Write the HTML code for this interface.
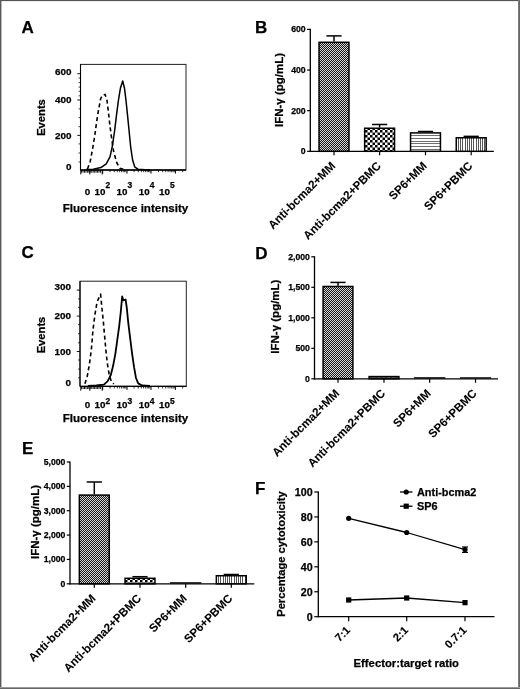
<!DOCTYPE html>
<html lang="en"><head><meta charset="utf-8"><title>Figure</title>
<style>
html,body{margin:0;padding:0;background:#fff;}
body{width:520px;height:689px;overflow:hidden;position:relative;}
svg{display:block;position:absolute;left:0;top:0;}
.bd{position:absolute;background:#666;}
text{font-family:"Liberation Sans",Arial,sans-serif;font-weight:bold;fill:#000;stroke:#000;stroke-width:0.25px;}
</style></head><body>
<svg width="520" height="689" viewBox="0 0 520 689">
<defs>
<pattern id="pDot" width="2" height="2" patternUnits="userSpaceOnUse"><rect width="2" height="2" fill="#161616"/><rect x="0" y="0" width="1" height="1" fill="#d8d8d8"/><rect x="1" y="1" width="1" height="1" fill="#d8d8d8"/></pattern>
<pattern id="pChk" width="5" height="5" patternUnits="userSpaceOnUse"><rect width="5" height="5" fill="#fff"/><rect x="0" y="0" width="2.5" height="2.5" fill="#000"/><rect x="2.5" y="2.5" width="2.5" height="2.5" fill="#000"/></pattern>
<pattern id="pHor" width="3" height="2.7" patternUnits="userSpaceOnUse"><rect width="3" height="2.7" fill="#fff"/><rect x="0" y="0.4" width="3" height="1" fill="#444"/></pattern>
<pattern id="pVer" width="2.1" height="3" patternUnits="userSpaceOnUse"><rect width="2.1" height="3" fill="#f4f4f4"/><rect x="0" y="0" width="1.05" height="3" fill="#333"/></pattern>
</defs>
<rect x="0" y="0" width="520" height="689" fill="#fff"/>
<rect x="80.5" y="64.4" width="105.50" height="105.60" fill="none" stroke="#222" stroke-width="1"/>
<line x1="77.30" y1="73.70" x2="80.50" y2="73.70" stroke="#000" stroke-width="0.9" />
<line x1="77.30" y1="100.00" x2="80.50" y2="100.00" stroke="#000" stroke-width="0.9" />
<line x1="77.30" y1="135.40" x2="80.50" y2="135.40" stroke="#000" stroke-width="0.9" />
<line x1="78.50" y1="78.00" x2="80.50" y2="78.00" stroke="#000" stroke-width="0.7" />
<line x1="78.50" y1="82.60" x2="80.50" y2="82.60" stroke="#000" stroke-width="0.7" />
<line x1="78.50" y1="87.10" x2="80.50" y2="87.10" stroke="#000" stroke-width="0.7" />
<line x1="78.50" y1="91.30" x2="80.50" y2="91.30" stroke="#000" stroke-width="0.7" />
<line x1="78.50" y1="95.80" x2="80.50" y2="95.80" stroke="#000" stroke-width="0.7" />
<line x1="78.50" y1="108.90" x2="80.50" y2="108.90" stroke="#000" stroke-width="0.7" />
<line x1="78.50" y1="117.60" x2="80.50" y2="117.60" stroke="#000" stroke-width="0.7" />
<line x1="78.50" y1="126.70" x2="80.50" y2="126.70" stroke="#000" stroke-width="0.7" />
<line x1="78.50" y1="143.90" x2="80.50" y2="143.90" stroke="#000" stroke-width="0.7" />
<line x1="78.50" y1="153.00" x2="80.50" y2="153.00" stroke="#000" stroke-width="0.7" />
<line x1="78.50" y1="162.00" x2="80.50" y2="162.00" stroke="#000" stroke-width="0.7" />
<text x="71.50" y="74.90" font-size="9.9" text-anchor="end" >600</text>
<text x="71.50" y="103.40" font-size="9.9" text-anchor="end" >400</text>
<text x="71.50" y="138.70" font-size="9.9" text-anchor="end" >200</text>
<text x="71.50" y="170.00" font-size="9.9" text-anchor="end" >0</text>
<line x1="80.50" y1="170.00" x2="186.00" y2="170.00" stroke="#000" stroke-width="1.3" />
<line x1="80.50" y1="64.40" x2="80.50" y2="170.00" stroke="#000" stroke-width="1.1" />
<line x1="102.70" y1="170.00" x2="102.70" y2="173.60" stroke="#000" stroke-width="1.0" />
<line x1="127.00" y1="170.00" x2="127.00" y2="173.60" stroke="#000" stroke-width="1.0" />
<line x1="151.00" y1="170.00" x2="151.00" y2="173.60" stroke="#000" stroke-width="1.0" />
<line x1="175.40" y1="170.00" x2="175.40" y2="173.60" stroke="#000" stroke-width="1.0" />
<line x1="81.60" y1="170.00" x2="81.60" y2="172.70" stroke="#000" stroke-width="0.9" />
<line x1="83.05" y1="170.00" x2="83.05" y2="172.70" stroke="#000" stroke-width="0.9" />
<line x1="84.50" y1="170.00" x2="84.50" y2="172.70" stroke="#000" stroke-width="0.9" />
<line x1="85.95" y1="170.00" x2="85.95" y2="172.70" stroke="#000" stroke-width="0.9" />
<line x1="87.40" y1="170.00" x2="87.40" y2="172.70" stroke="#000" stroke-width="0.9" />
<line x1="88.85" y1="170.00" x2="88.85" y2="172.70" stroke="#000" stroke-width="0.9" />
<line x1="90.30" y1="170.00" x2="90.30" y2="172.70" stroke="#000" stroke-width="0.9" />
<line x1="91.75" y1="170.00" x2="91.75" y2="172.70" stroke="#000" stroke-width="0.9" />
<line x1="93.20" y1="170.00" x2="93.20" y2="172.70" stroke="#000" stroke-width="0.9" />
<line x1="94.65" y1="170.00" x2="94.65" y2="172.70" stroke="#000" stroke-width="0.9" />
<line x1="96.10" y1="170.00" x2="96.10" y2="172.70" stroke="#000" stroke-width="0.9" />
<line x1="97.55" y1="170.00" x2="97.55" y2="172.70" stroke="#000" stroke-width="0.9" />
<line x1="99.00" y1="170.00" x2="99.00" y2="172.70" stroke="#000" stroke-width="0.9" />
<line x1="100.45" y1="170.00" x2="100.45" y2="172.70" stroke="#000" stroke-width="0.9" />
<line x1="80.80" y1="170.00" x2="80.80" y2="174.40" stroke="#000" stroke-width="1.0" />
<line x1="89.80" y1="170.00" x2="89.80" y2="174.40" stroke="#000" stroke-width="1.0" />
<line x1="102.20" y1="170.00" x2="102.20" y2="174.40" stroke="#000" stroke-width="1.0" />
<line x1="110.02" y1="170.00" x2="110.02" y2="172.20" stroke="#000" stroke-width="0.8" />
<line x1="114.29" y1="170.00" x2="114.29" y2="172.20" stroke="#000" stroke-width="0.8" />
<line x1="117.33" y1="170.00" x2="117.33" y2="172.20" stroke="#000" stroke-width="0.8" />
<line x1="119.68" y1="170.00" x2="119.68" y2="172.20" stroke="#000" stroke-width="0.8" />
<line x1="121.61" y1="170.00" x2="121.61" y2="172.20" stroke="#000" stroke-width="0.8" />
<line x1="123.24" y1="170.00" x2="123.24" y2="172.20" stroke="#000" stroke-width="0.8" />
<line x1="124.65" y1="170.00" x2="124.65" y2="172.20" stroke="#000" stroke-width="0.8" />
<line x1="125.89" y1="170.00" x2="125.89" y2="172.20" stroke="#000" stroke-width="0.8" />
<line x1="134.02" y1="170.00" x2="134.02" y2="172.20" stroke="#000" stroke-width="0.8" />
<line x1="138.29" y1="170.00" x2="138.29" y2="172.20" stroke="#000" stroke-width="0.8" />
<line x1="141.33" y1="170.00" x2="141.33" y2="172.20" stroke="#000" stroke-width="0.8" />
<line x1="143.68" y1="170.00" x2="143.68" y2="172.20" stroke="#000" stroke-width="0.8" />
<line x1="145.61" y1="170.00" x2="145.61" y2="172.20" stroke="#000" stroke-width="0.8" />
<line x1="147.24" y1="170.00" x2="147.24" y2="172.20" stroke="#000" stroke-width="0.8" />
<line x1="148.65" y1="170.00" x2="148.65" y2="172.20" stroke="#000" stroke-width="0.8" />
<line x1="149.89" y1="170.00" x2="149.89" y2="172.20" stroke="#000" stroke-width="0.8" />
<line x1="158.42" y1="170.00" x2="158.42" y2="172.20" stroke="#000" stroke-width="0.8" />
<line x1="162.69" y1="170.00" x2="162.69" y2="172.20" stroke="#000" stroke-width="0.8" />
<line x1="165.73" y1="170.00" x2="165.73" y2="172.20" stroke="#000" stroke-width="0.8" />
<line x1="168.08" y1="170.00" x2="168.08" y2="172.20" stroke="#000" stroke-width="0.8" />
<line x1="170.01" y1="170.00" x2="170.01" y2="172.20" stroke="#000" stroke-width="0.8" />
<line x1="171.64" y1="170.00" x2="171.64" y2="172.20" stroke="#000" stroke-width="0.8" />
<line x1="173.05" y1="170.00" x2="173.05" y2="172.20" stroke="#000" stroke-width="0.8" />
<line x1="174.29" y1="170.00" x2="174.29" y2="172.20" stroke="#000" stroke-width="0.8" />
<line x1="182.72" y1="170.00" x2="182.72" y2="172.20" stroke="#000" stroke-width="0.8" />
<text x="87.50" y="194.60" font-size="9.8" text-anchor="middle" >0</text>
<text x="100.00" y="194.60" font-size="9.8" text-anchor="middle" >10</text>
<text x="107.80" y="188.20" font-size="8.4" text-anchor="middle" >2</text>
<text x="122.00" y="194.60" font-size="9.8" text-anchor="middle" >10</text>
<text x="129.80" y="188.20" font-size="8.4" text-anchor="middle" >3</text>
<text x="144.30" y="194.60" font-size="9.8" text-anchor="middle" >10</text>
<text x="152.10" y="188.20" font-size="8.4" text-anchor="middle" >4</text>
<text x="164.50" y="194.60" font-size="9.8" text-anchor="middle" >10</text>
<text x="172.30" y="188.20" font-size="8.4" text-anchor="middle" >5</text>
<text x="125.50" y="212.00" font-size="11.6" text-anchor="middle" >Fluorescence intensity</text>
<text x="45.00" y="117.50" font-size="11.2" text-anchor="middle" transform="rotate(-90 45.00 117.50)" >Events</text>
<path d="M86.0,169.6 L93.3,169.3 L100.9,167.6 L106.2,163.8 L110.0,156.9 L112.3,146.3 L114.6,131.0 L116.4,115.8 L118.4,100.5 L120.4,88.3 L122.7,81.0 L124.5,88.3 L126.0,100.5 L127.6,115.8 L129.1,131.0 L130.6,146.3 L132.6,160.0 L134.7,166.8 L138.2,169.3 L145.0,169.7 L150.0,169.8" fill="none" stroke="#000" stroke-width="1.5" stroke-linejoin="round"/>
<path d="M87.5,169.1 L90.2,161.5 L92.5,149.3 L94.8,135.6 L96.6,121.9 L98.6,109.7 L100.6,99.0 L102.4,95.2 L105.1,94.4 L107.0,100.5 L108.5,112.7 L110.0,126.4 L111.9,140.2 L113.8,152.4 L116.9,163.0 L119.9,168.4 L125.3,169.6" fill="none" stroke="#000" stroke-width="1.6" stroke-linejoin="round" stroke-dasharray="4 3"/>
<rect x="80" y="281.2" width="106.30" height="105.10" fill="none" stroke="#222" stroke-width="1"/>
<line x1="76.80" y1="290.10" x2="80.00" y2="290.10" stroke="#000" stroke-width="0.9" />
<line x1="76.80" y1="316.10" x2="80.00" y2="316.10" stroke="#000" stroke-width="0.9" />
<line x1="76.80" y1="351.50" x2="80.00" y2="351.50" stroke="#000" stroke-width="0.9" />
<line x1="78.00" y1="298.90" x2="80.00" y2="298.90" stroke="#000" stroke-width="0.7" />
<line x1="78.00" y1="307.40" x2="80.00" y2="307.40" stroke="#000" stroke-width="0.7" />
<line x1="78.00" y1="324.60" x2="80.00" y2="324.60" stroke="#000" stroke-width="0.7" />
<line x1="78.00" y1="333.70" x2="80.00" y2="333.70" stroke="#000" stroke-width="0.7" />
<line x1="78.00" y1="342.80" x2="80.00" y2="342.80" stroke="#000" stroke-width="0.7" />
<line x1="78.00" y1="360.00" x2="80.00" y2="360.00" stroke="#000" stroke-width="0.7" />
<line x1="78.00" y1="369.10" x2="80.00" y2="369.10" stroke="#000" stroke-width="0.7" />
<line x1="78.00" y1="377.80" x2="80.00" y2="377.80" stroke="#000" stroke-width="0.7" />
<text x="71.00" y="289.70" font-size="9.9" text-anchor="end" >300</text>
<text x="71.00" y="319.40" font-size="9.9" text-anchor="end" >200</text>
<text x="71.00" y="354.90" font-size="9.9" text-anchor="end" >100</text>
<text x="71.00" y="385.60" font-size="9.9" text-anchor="end" >0</text>
<line x1="80.00" y1="386.30" x2="186.30" y2="386.30" stroke="#000" stroke-width="1.3" />
<line x1="80.00" y1="281.20" x2="80.00" y2="386.30" stroke="#000" stroke-width="1.1" />
<line x1="102.70" y1="386.30" x2="102.70" y2="389.90" stroke="#000" stroke-width="1.0" />
<line x1="127.00" y1="386.30" x2="127.00" y2="389.90" stroke="#000" stroke-width="1.0" />
<line x1="151.00" y1="386.30" x2="151.00" y2="389.90" stroke="#000" stroke-width="1.0" />
<line x1="175.40" y1="386.30" x2="175.40" y2="389.90" stroke="#000" stroke-width="1.0" />
<line x1="81.60" y1="386.30" x2="81.60" y2="389.00" stroke="#000" stroke-width="0.9" />
<line x1="83.05" y1="386.30" x2="83.05" y2="389.00" stroke="#000" stroke-width="0.9" />
<line x1="84.50" y1="386.30" x2="84.50" y2="389.00" stroke="#000" stroke-width="0.9" />
<line x1="85.95" y1="386.30" x2="85.95" y2="389.00" stroke="#000" stroke-width="0.9" />
<line x1="87.40" y1="386.30" x2="87.40" y2="389.00" stroke="#000" stroke-width="0.9" />
<line x1="88.85" y1="386.30" x2="88.85" y2="389.00" stroke="#000" stroke-width="0.9" />
<line x1="90.30" y1="386.30" x2="90.30" y2="389.00" stroke="#000" stroke-width="0.9" />
<line x1="91.75" y1="386.30" x2="91.75" y2="389.00" stroke="#000" stroke-width="0.9" />
<line x1="93.20" y1="386.30" x2="93.20" y2="389.00" stroke="#000" stroke-width="0.9" />
<line x1="94.65" y1="386.30" x2="94.65" y2="389.00" stroke="#000" stroke-width="0.9" />
<line x1="96.10" y1="386.30" x2="96.10" y2="389.00" stroke="#000" stroke-width="0.9" />
<line x1="97.55" y1="386.30" x2="97.55" y2="389.00" stroke="#000" stroke-width="0.9" />
<line x1="99.00" y1="386.30" x2="99.00" y2="389.00" stroke="#000" stroke-width="0.9" />
<line x1="100.45" y1="386.30" x2="100.45" y2="389.00" stroke="#000" stroke-width="0.9" />
<line x1="80.80" y1="386.30" x2="80.80" y2="390.70" stroke="#000" stroke-width="1.0" />
<line x1="89.80" y1="386.30" x2="89.80" y2="390.70" stroke="#000" stroke-width="1.0" />
<line x1="102.20" y1="386.30" x2="102.20" y2="390.70" stroke="#000" stroke-width="1.0" />
<line x1="110.02" y1="386.30" x2="110.02" y2="388.50" stroke="#000" stroke-width="0.8" />
<line x1="114.29" y1="386.30" x2="114.29" y2="388.50" stroke="#000" stroke-width="0.8" />
<line x1="117.33" y1="386.30" x2="117.33" y2="388.50" stroke="#000" stroke-width="0.8" />
<line x1="119.68" y1="386.30" x2="119.68" y2="388.50" stroke="#000" stroke-width="0.8" />
<line x1="121.61" y1="386.30" x2="121.61" y2="388.50" stroke="#000" stroke-width="0.8" />
<line x1="123.24" y1="386.30" x2="123.24" y2="388.50" stroke="#000" stroke-width="0.8" />
<line x1="124.65" y1="386.30" x2="124.65" y2="388.50" stroke="#000" stroke-width="0.8" />
<line x1="125.89" y1="386.30" x2="125.89" y2="388.50" stroke="#000" stroke-width="0.8" />
<line x1="134.02" y1="386.30" x2="134.02" y2="388.50" stroke="#000" stroke-width="0.8" />
<line x1="138.29" y1="386.30" x2="138.29" y2="388.50" stroke="#000" stroke-width="0.8" />
<line x1="141.33" y1="386.30" x2="141.33" y2="388.50" stroke="#000" stroke-width="0.8" />
<line x1="143.68" y1="386.30" x2="143.68" y2="388.50" stroke="#000" stroke-width="0.8" />
<line x1="145.61" y1="386.30" x2="145.61" y2="388.50" stroke="#000" stroke-width="0.8" />
<line x1="147.24" y1="386.30" x2="147.24" y2="388.50" stroke="#000" stroke-width="0.8" />
<line x1="148.65" y1="386.30" x2="148.65" y2="388.50" stroke="#000" stroke-width="0.8" />
<line x1="149.89" y1="386.30" x2="149.89" y2="388.50" stroke="#000" stroke-width="0.8" />
<line x1="158.42" y1="386.30" x2="158.42" y2="388.50" stroke="#000" stroke-width="0.8" />
<line x1="162.69" y1="386.30" x2="162.69" y2="388.50" stroke="#000" stroke-width="0.8" />
<line x1="165.73" y1="386.30" x2="165.73" y2="388.50" stroke="#000" stroke-width="0.8" />
<line x1="168.08" y1="386.30" x2="168.08" y2="388.50" stroke="#000" stroke-width="0.8" />
<line x1="170.01" y1="386.30" x2="170.01" y2="388.50" stroke="#000" stroke-width="0.8" />
<line x1="171.64" y1="386.30" x2="171.64" y2="388.50" stroke="#000" stroke-width="0.8" />
<line x1="173.05" y1="386.30" x2="173.05" y2="388.50" stroke="#000" stroke-width="0.8" />
<line x1="174.29" y1="386.30" x2="174.29" y2="388.50" stroke="#000" stroke-width="0.8" />
<line x1="182.72" y1="386.30" x2="182.72" y2="388.50" stroke="#000" stroke-width="0.8" />
<text x="87.50" y="407.80" font-size="9.8" text-anchor="middle" >0</text>
<text x="100.00" y="407.80" font-size="9.8" text-anchor="middle" >10</text>
<text x="107.80" y="403.50" font-size="8.4" text-anchor="middle" >2</text>
<text x="122.00" y="407.80" font-size="9.8" text-anchor="middle" >10</text>
<text x="129.80" y="403.50" font-size="8.4" text-anchor="middle" >3</text>
<text x="144.30" y="407.80" font-size="9.8" text-anchor="middle" >10</text>
<text x="152.10" y="403.50" font-size="8.4" text-anchor="middle" >4</text>
<text x="164.50" y="407.80" font-size="9.8" text-anchor="middle" >10</text>
<text x="172.30" y="403.50" font-size="8.4" text-anchor="middle" >5</text>
<text x="125.50" y="421.60" font-size="11.6" text-anchor="middle" >Fluorescence intensity</text>
<text x="45.00" y="335.00" font-size="11.2" text-anchor="middle" transform="rotate(-90 45.00 335.00)" >Events</text>
<path d="M88.0,385.8 L96.3,385.5 L103.9,384.6 L107.7,381.1 L110.8,375.0 L113.1,365.8 L115.4,353.6 L117.3,339.9 L119.2,326.2 L120.7,312.5 L122.2,296.4 L123.4,300.3 L125.6,299.5 L126.8,307.9 L128.3,323.1 L130.2,338.4 L132.1,353.6 L134.1,367.4 L136.0,378.0 L138.2,383.4 L142.0,385.5 L150.0,385.9" fill="none" stroke="#000" stroke-width="1.8" stroke-linejoin="round"/>
<path d="M84.9,383.8 L87.2,376.5 L89.4,364.3 L91.4,349.1 L92.9,330.8 L94.8,315.5 L97.1,301.8 L100.6,294.2 L101.6,304.8 L103.2,320.1 L104.7,336.9 L106.2,353.6 L107.7,365.8 L109.3,375.0 L111.2,381.1 L113.8,384.1" fill="none" stroke="#000" stroke-width="1.6" stroke-linejoin="round" stroke-dasharray="4 3"/>
<line x1="310.30" y1="28.80" x2="310.30" y2="151.90" stroke="#000" stroke-width="1.3" />
<line x1="309.70" y1="151.30" x2="493.80" y2="151.30" stroke="#000" stroke-width="1.3" />
<line x1="307.10" y1="29.40" x2="310.30" y2="29.40" stroke="#000" stroke-width="1.2" />
<text x="305.70" y="32.40" font-size="8.7" text-anchor="end" >600</text>
<line x1="307.10" y1="70.03" x2="310.30" y2="70.03" stroke="#000" stroke-width="1.2" />
<text x="305.70" y="73.03" font-size="8.7" text-anchor="end" >400</text>
<line x1="307.10" y1="110.67" x2="310.30" y2="110.67" stroke="#000" stroke-width="1.2" />
<text x="305.70" y="113.67" font-size="8.7" text-anchor="end" >200</text>
<line x1="307.10" y1="151.30" x2="310.30" y2="151.30" stroke="#000" stroke-width="1.2" />
<text x="305.70" y="154.30" font-size="8.7" text-anchor="end" >0</text>
<line x1="334.00" y1="35.90" x2="334.00" y2="41.59" stroke="#000" stroke-width="1.5" />
<line x1="326.40" y1="35.90" x2="341.60" y2="35.90" stroke="#000" stroke-width="1.5" />
<rect x="319.05" y="42.29" width="29.90" height="109.01" fill="url(#pDot)" stroke="#000" stroke-width="1.5"/>
<line x1="334.00" y1="151.30" x2="334.00" y2="155.30" stroke="#000" stroke-width="1.2" />
<text x="336.00" y="166.60" font-size="11.6" text-anchor="end" transform="rotate(-45 336.00 166.60)" style="stroke-width:0.1px">Anti-bcma2+MM</text>
<line x1="379.60" y1="124.48" x2="379.60" y2="127.53" stroke="#000" stroke-width="1.5" />
<line x1="372.00" y1="124.48" x2="387.20" y2="124.48" stroke="#000" stroke-width="1.5" />
<rect x="364.65" y="128.23" width="29.90" height="23.07" fill="url(#pChk)" stroke="#000" stroke-width="1.5"/>
<line x1="379.60" y1="151.30" x2="379.60" y2="155.30" stroke="#000" stroke-width="1.2" />
<text x="381.60" y="166.60" font-size="11.6" text-anchor="end" transform="rotate(-45 381.60 166.60)" style="stroke-width:0.1px">Anti-bcma2+PBMC</text>
<line x1="425.50" y1="131.49" x2="425.50" y2="132.20" stroke="#000" stroke-width="1.5" />
<line x1="417.90" y1="131.49" x2="433.10" y2="131.49" stroke="#000" stroke-width="1.5" />
<rect x="410.55" y="132.90" width="29.90" height="18.40" fill="#fff" stroke="none"/>
<line x1="410.55" y1="149.30" x2="440.45" y2="149.30" stroke="#707070" stroke-width="1" shape-rendering="crispEdges"/>
<line x1="410.55" y1="146.60" x2="440.45" y2="146.60" stroke="#707070" stroke-width="1" shape-rendering="crispEdges"/>
<line x1="410.55" y1="143.90" x2="440.45" y2="143.90" stroke="#707070" stroke-width="1" shape-rendering="crispEdges"/>
<line x1="410.55" y1="141.20" x2="440.45" y2="141.20" stroke="#707070" stroke-width="1" shape-rendering="crispEdges"/>
<line x1="410.55" y1="138.50" x2="440.45" y2="138.50" stroke="#707070" stroke-width="1" shape-rendering="crispEdges"/>
<line x1="410.55" y1="135.80" x2="440.45" y2="135.80" stroke="#707070" stroke-width="1" shape-rendering="crispEdges"/>
<rect x="410.55" y="132.90" width="29.90" height="18.40" fill="none" stroke="#000" stroke-width="1.5"/>
<line x1="425.50" y1="151.30" x2="425.50" y2="155.30" stroke="#000" stroke-width="1.2" />
<text x="427.50" y="166.60" font-size="11.6" text-anchor="end" transform="rotate(-45 427.50 166.60)" style="stroke-width:0.1px">SP6+MM</text>
<line x1="471.20" y1="136.37" x2="471.20" y2="137.08" stroke="#000" stroke-width="1.5" />
<line x1="463.60" y1="136.37" x2="478.80" y2="136.37" stroke="#000" stroke-width="1.5" />
<rect x="456.25" y="137.78" width="29.90" height="13.52" fill="#fff" stroke="none"/>
<line x1="458.55" y1="137.78" x2="458.55" y2="151.30" stroke="#555" stroke-width="1" shape-rendering="crispEdges"/>
<line x1="460.75" y1="137.78" x2="460.75" y2="151.30" stroke="#555" stroke-width="1" shape-rendering="crispEdges"/>
<line x1="462.95" y1="137.78" x2="462.95" y2="151.30" stroke="#555" stroke-width="1" shape-rendering="crispEdges"/>
<line x1="465.15" y1="137.78" x2="465.15" y2="151.30" stroke="#555" stroke-width="1" shape-rendering="crispEdges"/>
<line x1="467.35" y1="137.78" x2="467.35" y2="151.30" stroke="#555" stroke-width="1" shape-rendering="crispEdges"/>
<line x1="469.55" y1="137.78" x2="469.55" y2="151.30" stroke="#555" stroke-width="1" shape-rendering="crispEdges"/>
<line x1="471.75" y1="137.78" x2="471.75" y2="151.30" stroke="#555" stroke-width="1" shape-rendering="crispEdges"/>
<line x1="473.95" y1="137.78" x2="473.95" y2="151.30" stroke="#555" stroke-width="1" shape-rendering="crispEdges"/>
<line x1="476.15" y1="137.78" x2="476.15" y2="151.30" stroke="#555" stroke-width="1" shape-rendering="crispEdges"/>
<line x1="478.35" y1="137.78" x2="478.35" y2="151.30" stroke="#555" stroke-width="1" shape-rendering="crispEdges"/>
<line x1="480.55" y1="137.78" x2="480.55" y2="151.30" stroke="#555" stroke-width="1" shape-rendering="crispEdges"/>
<line x1="482.75" y1="137.78" x2="482.75" y2="151.30" stroke="#555" stroke-width="1" shape-rendering="crispEdges"/>
<line x1="484.95" y1="137.78" x2="484.95" y2="151.30" stroke="#555" stroke-width="1" shape-rendering="crispEdges"/>
<rect x="456.25" y="137.78" width="29.90" height="13.52" fill="none" stroke="#000" stroke-width="1.5"/>
<line x1="471.20" y1="151.30" x2="471.20" y2="155.30" stroke="#000" stroke-width="1.2" />
<text x="473.20" y="166.60" font-size="11.6" text-anchor="end" transform="rotate(-45 473.20 166.60)" style="stroke-width:0.1px">SP6+PBMC</text>
<text x="282.80" y="90.00" font-size="11.5" text-anchor="middle" transform="rotate(-90 282.80 90.00)" >IFN-γ (pg/mL)</text>
<line x1="314.50" y1="256.20" x2="314.50" y2="379.40" stroke="#000" stroke-width="1.3" />
<line x1="313.90" y1="378.80" x2="498.00" y2="378.80" stroke="#000" stroke-width="1.3" />
<line x1="311.30" y1="256.80" x2="314.50" y2="256.80" stroke="#000" stroke-width="1.2" />
<text x="309.90" y="259.80" font-size="8.7" text-anchor="end" >2,000</text>
<line x1="311.30" y1="287.30" x2="314.50" y2="287.30" stroke="#000" stroke-width="1.2" />
<text x="309.90" y="290.30" font-size="8.7" text-anchor="end" >1,500</text>
<line x1="311.30" y1="317.80" x2="314.50" y2="317.80" stroke="#000" stroke-width="1.2" />
<text x="309.90" y="320.80" font-size="8.7" text-anchor="end" >1,000</text>
<line x1="311.30" y1="348.30" x2="314.50" y2="348.30" stroke="#000" stroke-width="1.2" />
<text x="309.90" y="351.30" font-size="8.7" text-anchor="end" >500</text>
<line x1="311.30" y1="378.80" x2="314.50" y2="378.80" stroke="#000" stroke-width="1.2" />
<text x="309.90" y="381.80" font-size="8.7" text-anchor="end" >0</text>
<line x1="338.00" y1="282.42" x2="338.00" y2="285.78" stroke="#000" stroke-width="1.5" />
<line x1="330.40" y1="282.42" x2="345.60" y2="282.42" stroke="#000" stroke-width="1.5" />
<rect x="323.10" y="286.48" width="29.80" height="92.32" fill="url(#pDot)" stroke="#000" stroke-width="1.5"/>
<line x1="338.00" y1="378.80" x2="338.00" y2="382.80" stroke="#000" stroke-width="1.2" />
<text x="340.00" y="394.10" font-size="11.6" text-anchor="end" transform="rotate(-45 340.00 394.10)" style="stroke-width:0.1px">Anti-bcma2+MM</text>
<rect x="369.10" y="376.57" width="29.80" height="2.23" fill="url(#pChk)" stroke="#000" stroke-width="1.5"/>
<line x1="370.10" y1="377.59" x2="397.90" y2="377.59" stroke="#222" stroke-width="0.7" stroke-dasharray="2.5 2.5"/>
<line x1="384.00" y1="378.80" x2="384.00" y2="382.80" stroke="#000" stroke-width="1.2" />
<text x="386.00" y="394.10" font-size="11.6" text-anchor="end" transform="rotate(-45 386.00 394.10)" style="stroke-width:0.1px">Anti-bcma2+PBMC</text>
<line x1="414.10" y1="377.90" x2="445.30" y2="377.90" stroke="#000" stroke-width="1.4" />
<line x1="429.70" y1="378.80" x2="429.70" y2="382.80" stroke="#000" stroke-width="1.2" />
<text x="431.70" y="394.10" font-size="11.6" text-anchor="end" transform="rotate(-45 431.70 394.10)" style="stroke-width:0.1px">SP6+MM</text>
<line x1="459.90" y1="377.90" x2="491.10" y2="377.90" stroke="#000" stroke-width="1.4" />
<line x1="475.50" y1="378.80" x2="475.50" y2="382.80" stroke="#000" stroke-width="1.2" />
<text x="477.50" y="394.10" font-size="11.6" text-anchor="end" transform="rotate(-45 477.50 394.10)" style="stroke-width:0.1px">SP6+PBMC</text>
<text x="278.80" y="316.60" font-size="11.5" text-anchor="middle" transform="rotate(-90 278.80 316.60)" >IFN-γ (pg/mL)</text>
<line x1="70.00" y1="461.40" x2="70.00" y2="584.40" stroke="#000" stroke-width="1.3" />
<line x1="69.40" y1="583.80" x2="254.30" y2="583.80" stroke="#000" stroke-width="1.3" />
<line x1="66.80" y1="462.00" x2="70.00" y2="462.00" stroke="#000" stroke-width="1.2" />
<text x="65.40" y="465.00" font-size="8.7" text-anchor="end" >5,000</text>
<line x1="66.80" y1="486.36" x2="70.00" y2="486.36" stroke="#000" stroke-width="1.2" />
<text x="65.40" y="489.36" font-size="8.7" text-anchor="end" >4,000</text>
<line x1="66.80" y1="510.72" x2="70.00" y2="510.72" stroke="#000" stroke-width="1.2" />
<text x="65.40" y="513.72" font-size="8.7" text-anchor="end" >3,000</text>
<line x1="66.80" y1="535.08" x2="70.00" y2="535.08" stroke="#000" stroke-width="1.2" />
<text x="65.40" y="538.08" font-size="8.7" text-anchor="end" >2,000</text>
<line x1="66.80" y1="559.44" x2="70.00" y2="559.44" stroke="#000" stroke-width="1.2" />
<text x="65.40" y="562.44" font-size="8.7" text-anchor="end" >1,000</text>
<line x1="66.80" y1="583.80" x2="70.00" y2="583.80" stroke="#000" stroke-width="1.2" />
<text x="65.40" y="586.80" font-size="8.7" text-anchor="end" >0</text>
<line x1="94.30" y1="481.98" x2="94.30" y2="494.40" stroke="#000" stroke-width="1.5" />
<line x1="86.70" y1="481.98" x2="101.90" y2="481.98" stroke="#000" stroke-width="1.5" />
<rect x="79.35" y="495.10" width="29.90" height="88.70" fill="url(#pDot)" stroke="#000" stroke-width="1.5"/>
<line x1="94.30" y1="583.80" x2="94.30" y2="587.80" stroke="#000" stroke-width="1.2" />
<text x="96.30" y="599.10" font-size="11.6" text-anchor="end" transform="rotate(-45 96.30 599.10)" style="stroke-width:0.1px">Anti-bcma2+MM</text>
<line x1="140.00" y1="576.71" x2="140.00" y2="577.59" stroke="#000" stroke-width="1.5" />
<line x1="132.40" y1="576.71" x2="147.60" y2="576.71" stroke="#000" stroke-width="1.5" />
<rect x="125.05" y="578.29" width="29.90" height="5.51" fill="url(#pChk)" stroke="#000" stroke-width="1.5"/>
<line x1="140.00" y1="583.80" x2="140.00" y2="587.80" stroke="#000" stroke-width="1.2" />
<text x="142.00" y="599.10" font-size="11.6" text-anchor="end" transform="rotate(-45 142.00 599.10)" style="stroke-width:0.1px">Anti-bcma2+PBMC</text>
<line x1="170.05" y1="582.90" x2="201.35" y2="582.90" stroke="#000" stroke-width="1.4" />
<line x1="185.70" y1="583.80" x2="185.70" y2="587.80" stroke="#000" stroke-width="1.2" />
<text x="187.70" y="599.10" font-size="11.6" text-anchor="end" transform="rotate(-45 187.70 599.10)" style="stroke-width:0.1px">SP6+MM</text>
<line x1="231.30" y1="574.49" x2="231.30" y2="575.03" stroke="#000" stroke-width="1.5" />
<line x1="223.70" y1="574.49" x2="238.90" y2="574.49" stroke="#000" stroke-width="1.5" />
<rect x="216.35" y="575.73" width="29.90" height="8.07" fill="#fff" stroke="none"/>
<line x1="218.65" y1="575.73" x2="218.65" y2="583.80" stroke="#555" stroke-width="1" shape-rendering="crispEdges"/>
<line x1="220.85" y1="575.73" x2="220.85" y2="583.80" stroke="#555" stroke-width="1" shape-rendering="crispEdges"/>
<line x1="223.05" y1="575.73" x2="223.05" y2="583.80" stroke="#555" stroke-width="1" shape-rendering="crispEdges"/>
<line x1="225.25" y1="575.73" x2="225.25" y2="583.80" stroke="#555" stroke-width="1" shape-rendering="crispEdges"/>
<line x1="227.45" y1="575.73" x2="227.45" y2="583.80" stroke="#555" stroke-width="1" shape-rendering="crispEdges"/>
<line x1="229.65" y1="575.73" x2="229.65" y2="583.80" stroke="#555" stroke-width="1" shape-rendering="crispEdges"/>
<line x1="231.85" y1="575.73" x2="231.85" y2="583.80" stroke="#555" stroke-width="1" shape-rendering="crispEdges"/>
<line x1="234.05" y1="575.73" x2="234.05" y2="583.80" stroke="#555" stroke-width="1" shape-rendering="crispEdges"/>
<line x1="236.25" y1="575.73" x2="236.25" y2="583.80" stroke="#555" stroke-width="1" shape-rendering="crispEdges"/>
<line x1="238.45" y1="575.73" x2="238.45" y2="583.80" stroke="#555" stroke-width="1" shape-rendering="crispEdges"/>
<line x1="240.65" y1="575.73" x2="240.65" y2="583.80" stroke="#555" stroke-width="1" shape-rendering="crispEdges"/>
<line x1="242.85" y1="575.73" x2="242.85" y2="583.80" stroke="#555" stroke-width="1" shape-rendering="crispEdges"/>
<line x1="245.05" y1="575.73" x2="245.05" y2="583.80" stroke="#555" stroke-width="1" shape-rendering="crispEdges"/>
<rect x="216.35" y="575.73" width="29.90" height="8.07" fill="none" stroke="#000" stroke-width="1.5"/>
<line x1="231.30" y1="583.80" x2="231.30" y2="587.80" stroke="#000" stroke-width="1.2" />
<text x="233.30" y="599.10" font-size="11.6" text-anchor="end" transform="rotate(-45 233.30 599.10)" style="stroke-width:0.1px">SP6+PBMC</text>
<text x="38.50" y="522.00" font-size="11.5" text-anchor="middle" transform="rotate(-90 38.50 522.00)" >IFN-γ (pg/mL)</text>
<line x1="318.30" y1="491.40" x2="318.30" y2="617.30" stroke="#000" stroke-width="1.3" />
<line x1="317.70" y1="616.70" x2="494.50" y2="616.70" stroke="#000" stroke-width="1.3" />
<line x1="314.30" y1="616.70" x2="318.30" y2="616.70" stroke="#000" stroke-width="1.2" />
<text x="312.60" y="620.50" font-size="10.7" text-anchor="end" >0</text>
<line x1="314.30" y1="591.76" x2="318.30" y2="591.76" stroke="#000" stroke-width="1.2" />
<text x="312.60" y="595.56" font-size="10.7" text-anchor="end" >20</text>
<line x1="314.30" y1="566.82" x2="318.30" y2="566.82" stroke="#000" stroke-width="1.2" />
<text x="312.60" y="570.62" font-size="10.7" text-anchor="end" >40</text>
<line x1="314.30" y1="541.88" x2="318.30" y2="541.88" stroke="#000" stroke-width="1.2" />
<text x="312.60" y="545.68" font-size="10.7" text-anchor="end" >60</text>
<line x1="314.30" y1="516.94" x2="318.30" y2="516.94" stroke="#000" stroke-width="1.2" />
<text x="312.60" y="520.74" font-size="10.7" text-anchor="end" >80</text>
<line x1="314.30" y1="492.00" x2="318.30" y2="492.00" stroke="#000" stroke-width="1.2" />
<text x="312.60" y="495.80" font-size="10.7" text-anchor="end" >100</text>
<path d="M348.7,518.3 L406.7,532.5 L465.0,549.6" fill="none" stroke="#000" stroke-width="1.3" stroke-linejoin="round"/>
<path d="M348.7,600.0 L406.7,598.0 L465.0,602.6" fill="none" stroke="#000" stroke-width="1.3" stroke-linejoin="round"/>
<circle cx="348.7" cy="518.3" r="2.6" fill="#000"/>
<circle cx="406.7" cy="532.5" r="2.6" fill="#000"/>
<circle cx="465" cy="549.6" r="2.6" fill="#000"/>
<rect x="346.09999999999997" y="597.4" width="5.2" height="5.2" fill="#000"/>
<rect x="404.09999999999997" y="595.4" width="5.2" height="5.2" fill="#000"/>
<rect x="462.4" y="600.0" width="5.2" height="5.2" fill="#000"/>
<line x1="465.00" y1="547.00" x2="465.00" y2="552.40" stroke="#000" stroke-width="1.2" />
<line x1="462.00" y1="547.00" x2="468.00" y2="547.00" stroke="#000" stroke-width="1.2" />
<line x1="462.00" y1="552.40" x2="468.00" y2="552.40" stroke="#000" stroke-width="1.2" />
<line x1="463.00" y1="600.80" x2="467.00" y2="600.80" stroke="#000" stroke-width="1.0" />
<line x1="463.00" y1="604.60" x2="467.00" y2="604.60" stroke="#000" stroke-width="1.0" />
<line x1="348.70" y1="616.70" x2="348.70" y2="621.20" stroke="#000" stroke-width="1.2" />
<text x="351.00" y="630.90" font-size="11.2" text-anchor="end" transform="rotate(-45 351.00 630.90)" style="stroke-width:0.1px">7:1</text>
<line x1="406.70" y1="616.70" x2="406.70" y2="621.20" stroke="#000" stroke-width="1.2" />
<text x="409.00" y="630.90" font-size="11.2" text-anchor="end" transform="rotate(-45 409.00 630.90)" style="stroke-width:0.1px">2:1</text>
<line x1="465.00" y1="616.70" x2="465.00" y2="621.20" stroke="#000" stroke-width="1.2" />
<text x="467.30" y="630.90" font-size="11.2" text-anchor="end" transform="rotate(-45 467.30 630.90)" style="stroke-width:0.1px">0.7:1</text>
<text x="406.30" y="666.50" font-size="11.3" text-anchor="middle" >Effector:target ratio</text>
<text x="285.20" y="554.00" font-size="11.2" text-anchor="middle" transform="rotate(-90 285.20 554.00)" >Percentage cytotoxicity</text>
<line x1="400.00" y1="492.00" x2="412.50" y2="492.00" stroke="#000" stroke-width="1.3" />
<circle cx="406.2" cy="492" r="2.6" fill="#000"/>
<line x1="400.00" y1="506.20" x2="412.50" y2="506.20" stroke="#000" stroke-width="1.3" />
<rect x="403.6" y="503.6" width="5.2" height="5.2" fill="#000"/>
<text x="417.00" y="495.80" font-size="10.9" text-anchor="start" >Anti-bcma2</text>
<text x="417.00" y="510.00" font-size="10.9" text-anchor="start" >SP6</text>
<text x="21.60" y="33.30" font-size="17" text-anchor="start" >A</text>
<text x="255.00" y="33.00" font-size="17" text-anchor="start" >B</text>
<text x="21.40" y="258.40" font-size="17" text-anchor="start" >C</text>
<text x="255.20" y="258.50" font-size="17" text-anchor="start" >D</text>
<text x="21.90" y="453.50" font-size="17" text-anchor="start" >E</text>
<text x="255.00" y="494.00" font-size="17" text-anchor="start" >F</text>
</svg>
<div class="bd" style="left:0;top:0;width:520px;height:1px;background:#555"></div>
<div class="bd" style="left:0;top:1px;width:520px;height:1px;background:#ececec"></div>
<div class="bd" style="left:0;top:0;width:1px;height:689px;background:#585858"></div>
<div class="bd" style="left:1px;top:1px;width:1px;height:688px;background:#b8b8b8"></div>
<div class="bd" style="left:518px;top:0;width:1px;height:689px;background:#7c7c7c"></div>
<div class="bd" style="left:519px;top:0;width:1px;height:689px;background:#686868"></div>
<div class="bd" style="left:0;top:687px;width:520px;height:1px;background:#9a9a9a"></div>
<div class="bd" style="left:0;top:688px;width:520px;height:1px;background:#666"></div>
</body></html>
